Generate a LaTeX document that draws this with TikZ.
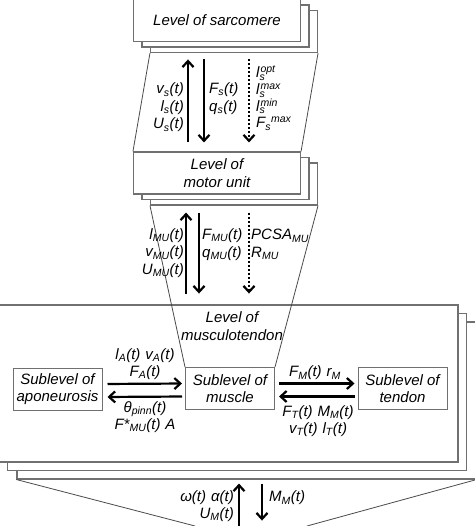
\documentclass[tikz,border=0pt]{standalone}
\usepackage{fontspec}
\setmainfont{Liberation Sans}
\usetikzlibrary{arrows.meta}
\definecolor{boxgray}{HTML}{707070}
\definecolor{trapgray}{HTML}{4A4A4A}
\newcommand\lab{\fontsize{15}{17.5}\selectfont\itshape}
\newcommand\sbs[1]{\textsubscript{#1}}
\newcommand\sps[1]{\textsuperscript{#1}}
\newcommand\lsub[2]{l\rlap{\sbs{#1}}\hspace{1pt}\sps{#2}}
\begin{document}
\begin{tikzpicture}[x=1pt,y=1pt,
  lvl/.style={draw=boxgray, line width=1.1pt, fill=white, inner sep=0pt, align=center, font=\lab},
  lvlsize/.style={minimum width=167pt, minimum height=42pt},
  mtsize/.style={minimum width=459pt, minimum height=157pt},
  subbox/.style={draw=boxgray, line width=1pt, fill=white, inner sep=0pt, align=center, font=\lab, minimum width=89pt, minimum height=42pt},
  lbl/.style={inner sep=0pt, font=\lab, align=center},
  trap/.style={draw=trapgray, line width=0.8pt},
  arr/.style={line width=2.2pt, -{Straight Barb[length=6pt,width=11pt]}},
  darr/.style={arr, dash pattern=on 2pt off 2pt}]
\useasboundingbox (0,0) rectangle (474,-526);
% level of sarcomere
\node[lvl, lvlsize] (sarc3) at (234,-31.5) {};
\node[lvl, lvlsize] (sarc2) at (225.5,-26) {};
\node[lvl, lvlsize] (sarc) at (217,-20.5) {Level of sarcomere};
% level of motor unit
\node[lvl, lvlsize] (mu3) at (234,-184) {};
\node[lvl, lvlsize] (mu2) at (225.5,-178.5) {};
\node[lvl, lvlsize] (mu) at (217,-173) {Level of\\motor unit};
% level of musculotendon
\node[lvl, mtsize] (mt3) at (246.5,-400.5) {};
\node[lvl, mtsize] (mt2) at (237,-392) {};
\node[lvl, mtsize] (mt) at (228.5,-383.5) {};
\node[lbl] (mtl) at (232,-326) {Level of\\musculotendon};
% sublevels
\node[subbox] (apo) at (57.5,-389) {Sublevel of\\aponeurosis};
\node[subbox] (muscle) at (230,-388.5) {Sublevel of\\muscle};
\node[subbox] (tendon) at (402.5,-388.5) {Sublevel of\\tendon};
% trapezoids
\draw[trap] (sarc3.south west) -- (mu.north west);
\draw[trap] (sarc3.south east) -- (mu.north east);
\draw[trap] (mu3.south west) -- (muscle.north west);
\draw[trap] (mu3.south east) -- (muscle.north east);
\coordinate (bl) at (195,-526);
\coordinate (br) at (307,-526);
\draw[trap] (mt3.south west) -- (bl);
\draw[trap] (mt3.south east) -- (br);
% sarcomere <-> motor unit
\draw[arr] ([shift={(-29,9)}]mu.north) -- ([shift={(-29,92)}]mu.north);
\draw[arr] ([shift={(-13,92)}]mu.north) -- ([shift={(-13,9)}]mu.north);
\draw[darr] ([shift={(32,92)}]mu.north) -- ([shift={(32,9)}]mu.north);
\node[lbl, anchor=east, align=right] (sl) at (184,-107.5) {v\sbs{s}(t)\\l\sbs{s}(t)\\U\sbs{s}(t)};
\node[lbl, anchor=west, align=left] (sr) at (209,-98.5) {F\sbs{s}(t)\\q\sbs{s}(t)};
\node[lbl, anchor=base west] (sc1) at (256,-78) {\lsub{s}{opt}};
\node[lbl, anchor=base west] (sc2) at (256,-95) {\lsub{s}{max}};
\node[lbl, anchor=base west] (sc3) at (256,-111.5) {\lsub{s}{min}};
\node[lbl, anchor=base west] (sc4) at (256,-128) {F\sbs{s}\sps{max}};
% motor unit <-> musculotendon
\draw[arr] ([shift={(-31,-99)}]mu.south) -- ([shift={(-31,-18)}]mu.south);
\draw[arr] ([shift={(-18,-18)}]mu.south) -- ([shift={(-18,-99)}]mu.south);
\draw[darr] ([shift={(32,-18)}]mu.south) -- ([shift={(32,-99)}]mu.south);
\node[lbl, anchor=east, align=right] (ml) at (184,-253) {l\sbs{MU}(t)\\v\sbs{MU}(t)\\U\sbs{MU}(t)};
\node[lbl, anchor=west, align=left] (mr) at (202,-244.5) {F\sbs{MU}(t)\\q\sbs{MU}(t)};
\node[lbl, anchor=west, align=left] (mc) at (251,-244.5) {PCSA\sbs{MU}\\R\sbs{MU}};
% sublevel connectors
\draw[arr, shorten <=5pt, shorten >=3pt] ([yshift=5pt]apo.east) -- ([yshift=5pt]muscle.west);
\draw[arr, shorten <=3pt, shorten >=5pt] ([yshift=-8pt]muscle.west) -- ([yshift=-8pt]apo.east);
\draw[arr, shorten <=4pt, shorten >=3pt] ([yshift=5pt]muscle.east) -- ([yshift=5pt]tendon.west);
\draw[arr, shorten <=3pt, shorten >=4pt] ([yshift=-8pt]tendon.west) -- ([yshift=-8pt]muscle.east);
\node[lbl] (la) at (145,-364) {l\sbs{A}(t)\hspace{5pt}v\sbs{A}(t)\\F\sbs{A}(t)};
\node[lbl] (lb) at (145,-417) {θ\sbs{pinn}(t)\\F*\sbs{MU}(t)\hspace{5pt}A};
\node[lbl] (lc) at (315,-373) {F\sbs{M}(t)\hspace{5pt}r\sbs{M}};
\node[lbl] (ld) at (318,-421) {F\sbs{T}(t)\hspace{5pt}M\sbs{M}(t)\\v\sbs{T}(t)\hspace{5pt}l\sbs{T}(t)};
% musculotendon <-> joint
\draw[arr] ([shift={(-7.5,-48)}]mt3.south) -- ([shift={(-7.5,-4)}]mt3.south);
\draw[arr] ([shift={(15.5,-4)}]mt3.south) -- ([shift={(15.5,-41)}]mt3.south);
\node[lbl, anchor=east, align=right] (jl) at (234,-506) {ω(t)\hspace{5pt}α(t)\\U\sbs{M}(t)};
\node[lbl, anchor=west] (jr) at (269,-498) {M\sbs{M}(t)};
\end{tikzpicture}
\end{document}
